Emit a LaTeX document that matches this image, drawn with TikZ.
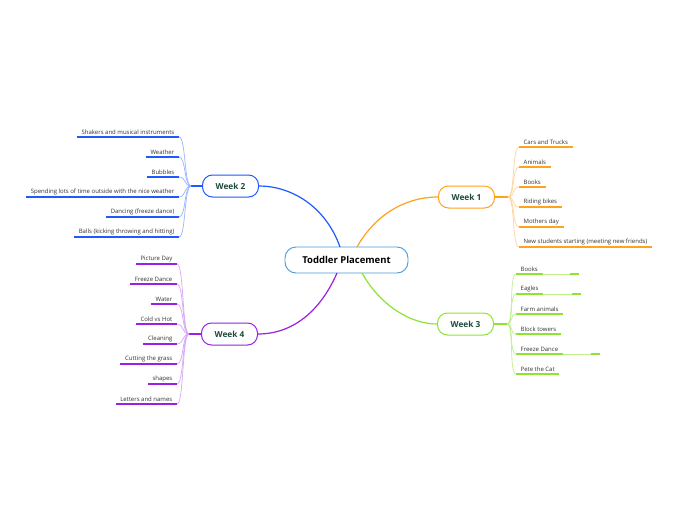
\documentclass[tikz,border=0pt]{standalone}
\usepackage{fontspec}
\setmainfont{Open Sans}
\begin{document}
\begin{tikzpicture}[x=1pt,y=-1pt]
\definecolor{cblue}{HTML}{1E5AFF}
\definecolor{corange}{HTML}{FFA21C}
\definecolor{cgreen}{HTML}{8DE431}
\definecolor{cpurple}{HTML}{9B1FE8}
\definecolor{ccenter}{HTML}{4C9AD8}
\definecolor{wtext}{HTML}{1C4B3C}
\definecolor{itext}{HTML}{333333}
\tikzset{
  central/.style={draw=ccenter,line width=0.9pt,rounded corners=11pt,minimum width=123pt,minimum height=26pt,font=\fontsize{9.5}{11}\selectfont\bfseries,text=black,fill=white},
  week/.style={draw=#1,line width=1pt,rounded corners=10pt,minimum width=56pt,minimum height=22pt,font=\fontsize{8.3}{10}\selectfont\bfseries,text=wtext,fill=white},
  item/.style={font=\fontsize{6}{7}\selectfont,text=itext,inner xsep=4.5pt,inner ysep=2.2pt},
  ul/.style={draw=#1,line width=1.3pt},
  main/.style={draw=#1,line width=1.2pt},
  sub/.style={draw=#1,line width=0.7pt},
  stub/.style={draw=#1,line width=1.3pt},
  leaf/.style={inner sep=0pt,minimum width=9pt,minimum height=0pt},
}
\useasboundingbox[fill=white] (0,0) rectangle (697,520);

% central
\node[central] (c) at (346.5,260) {Toddler Placement};
\coordinate (cN2) at (340,247);
\coordinate (cN1) at (357,247);
\coordinate (cS4) at (337,273);
\coordinate (cS3) at (362,273);

% weeks
\node[week=cblue] (w2) at (230.5,186) {Week 2};
\node[week=corange] (w1) at (466.5,197) {Week 1};
\node[week=cgreen] (w3) at (465.5,324) {Week 3};
\node[week=cpurple] (w4) at (229.5,334) {Week 4};

\draw[main=cblue] (cN2) .. controls (325,205) and (290,186) .. (w2.east);
\draw[main=corange] (cN1) .. controls (375,215) and (405,197) .. (w1.west);
\draw[main=cpurple] (cS4) .. controls (320,312) and (292,334) .. (w4.east);
\draw[main=cgreen] (cS3) .. controls (380,305) and (410,324) .. (w3.west);

% hubs
\coordinate (h2) at (191,186);
\coordinate (h1) at (508,197);
\coordinate (h3) at (507,324);
\coordinate (h4) at (189,334);
\draw[stub=cblue] (w2.west) -- (h2);
\draw[stub=corange] (w1.east) -- (h1);
\draw[stub=cgreen] (w3.east) -- (h3);
\draw[stub=cpurple] (w4.west) -- (h4);

% Week 2 items
\foreach \n/\y/\t in {a/137/Shakers and musical instruments,b/157/Weather,c/177/Bubbles,d/197/Spending lots of time outside with the nice weather,e/217/Dancing (freeze dance),f/237/Balls (kicking throwing and hitting)}{
  \node[item,anchor=south east] (w2\n) at (179,\y) {\t};
  \draw[sub=cblue!45] (h2) .. controls +(-7,0) and +(7,0) .. (w2\n.south east);
  \draw[ul=cblue] (w2\n.south west) -- (w2\n.south east);
}

% Week 4 items
\foreach \n/\y/\t in {a/264/Picture Day,b/284/Freeze Dance,c/304/Water,d/324/Cold vs Hot,e/344/Cleaning,f/364/Cutting the grass,g/384/shapes,h/404/Letters and names}{
  \node[item,anchor=south east] (w4\n) at (177,\y) {\t};
  \draw[sub=cpurple!40] (h4) .. controls +(-7,0) and +(7,0) .. (w4\n.south east);
  \draw[ul=cpurple] (w4\n.south west) -- (w4\n.south east);
}

% Week 1 items
\foreach \n/\y/\t in {a/147/Cars and Trucks,b/167/Animals,c/187/Books,d/207/Riding bikes,e/227/Mothers day,f/247/New students starting (meeting new friends)}{
  \node[item,anchor=south west] (w1\n) at (519,\y) {\t};
  \draw[sub=corange!45] (h1) .. controls +(7,0) and +(-7,0) .. (w1\n.south west);
  \draw[ul=corange] (w1\n.south west) -- (w1\n.south east);
}

% Week 3 items
\foreach \n/\y/\t in {a/274/Books,b/294/Eagles,c/314/Farm animals,d/334/Block towers,e/354/Freeze Dance,f/374/Pete the Cat}{
  \node[item,anchor=south west] (w3\n) at (516,\y) {\t};
  \draw[sub=cgreen!55] (h3) .. controls +(7,0) and +(-7,0) .. (w3\n.south west);
  \draw[ul=cgreen] (w3\n.south west) -- (w3\n.south east);
}
\node[leaf,anchor=south west] (w3ax) at (570,274) {};
\node[leaf,anchor=south west] (w3bx) at (572,294) {};
\node[leaf,anchor=south west] (w3ex) at (591,354) {};
\foreach \p in {a,b,e}{
  \draw[sub=cgreen!55] (w3\p.south east) -- (w3\p x.south west);
  \draw[ul=cgreen] (w3\p x.south west) -- (w3\p x.south east);
}
\end{tikzpicture}
\end{document}
